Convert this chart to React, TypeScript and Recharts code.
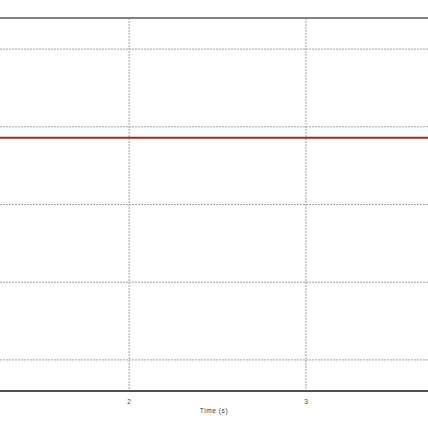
import React from 'react';
import { LineChart, Line, XAxis, YAxis, CartesianGrid, ReferenceLine } from 'recharts';

const timeValues = [1, 2, 3, 4];
const signalValues = [0.715, 0.715, 0.715, 0.715];
const xTicks = [2, 3];
const yTicks = [0, 0.25, 0.5, 0.75, 1];
const xDomain = [1.27, 3.69];
const yDomain = [-0.1, 1.1];

const data = timeValues.map((t, i) => ({ t, v: signalValues[i] }));

export default function App() {
  return (
    <div style={{ position: 'absolute', left: 0, top: 0, width: 428, height: 428, overflow: 'hidden', background: '#fff' }}>
      <LineChart width={428} height={428} data={data} margin={{ top: 18, right: 0, bottom: 0, left: 0 }}>
        <CartesianGrid stroke="#a0a0a0" strokeDasharray="2 1" horizontalValues={yTicks} verticalValues={xTicks} />
        <XAxis
          dataKey="t"
          type="number"
          domain={xDomain}
          allowDataOverflow
          ticks={xTicks}
          height={37}
          tickLine={false}
          axisLine={{ stroke: '#505050', strokeWidth: 2 }}
          tick={{ fontSize: 6.5, fill: '#444', fontFamily: 'Liberation Sans, Arial, sans-serif' }}
          tickMargin={2}
          label={{ value: 'Time (s)', position: 'insideBottom', offset: 15, fontSize: 6.5, fill: '#333', fontFamily: 'Liberation Sans, Arial, sans-serif', letterSpacing: 0.6 }}
        />
        <YAxis hide type="number" domain={yDomain} ticks={yTicks} allowDataOverflow />
        <ReferenceLine y={yDomain[1]} stroke="#808080" strokeWidth={2} ifOverflow="extendDomain" />
        <Line dataKey="v" stroke="#b22222" strokeWidth={2} dot={false} isAnimationActive={false} />
      </LineChart>
    </div>
  );
}
